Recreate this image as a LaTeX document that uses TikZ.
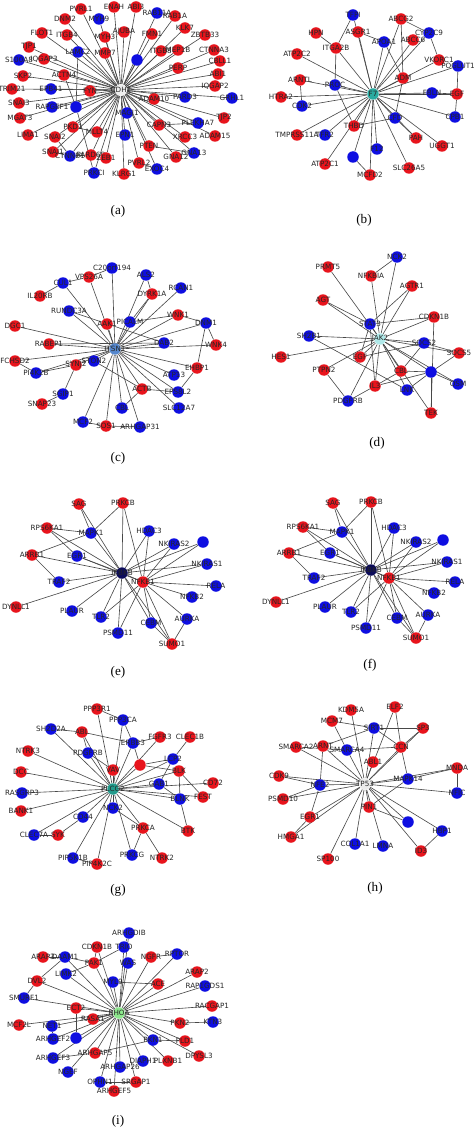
\documentclass[tikz,border=0pt]{standalone}
\usepackage{fontspec}
\newfontfamily\lblfont{DejaVu Sans}
\newfontfamily\capfont{Liberation Serif}
\pgfdeclarelayer{bg}
\pgfsetlayers{bg,main}
\definecolor{nred}{RGB}{232,20,28}
\definecolor{nblue}{RGB}{14,14,225}
\definecolor{hubA}{RGB}{238,238,238}
\definecolor{hubB}{RGB}{40,170,160}
\definecolor{hubC}{RGB}{85,135,205}
\definecolor{hubD}{RGB}{175,232,232}
\definecolor{hubE}{RGB}{12,12,90}
\definecolor{hubG}{RGB}{35,155,140}
\definecolor{hubH}{RGB}{236,236,236}
\definecolor{hubI}{RGB}{140,232,140}
\tikzset{
 nd/.style={circle,draw=none,minimum size=0.23cm,inner sep=0pt},
 lb/.style={font=\lblfont\fontsize{4.1}{4.5}\selectfont,text=black!85,inner sep=0pt},
 ed/.style={draw=black!72,line width=0.35pt},
 captxt/.style={font=\capfont\fontsize{7.5}{8}\selectfont,inner sep=0pt}
}
\newcommand{\redn}[4]{\node[nd,fill=nred,label={[lb]center:#4}] (#1) at (#2,#3) {};}
\newcommand{\bluen}[4]{\node[nd,fill=nblue,label={[lb]center:#4}] (#1) at (#2,#3) {};}
\newcommand{\hubn}[5]{\node[nd,fill=#4,label={[lb]center:#5}] (#1) at (#2,#3) {};}
\begin{document}
\begin{tikzpicture}[x=0.02cm,y=-0.02cm]
\useasboundingbox (0,0) rectangle (474,1128);
% ---------------- (a)
\hubn{aH}{121}{90}{hubA}{CDH1}
\redn{a1}{81}{9}{PVRL1}
\redn{a2}{114}{7}{ENAH}
\redn{a3}{136}{7}{ABI3}
\bluen{a4}{157}{13}{RAB11A}
\redn{a5}{175}{16}{RAB1A}
\redn{a6}{65}{19}{DNM2}
\bluen{a7}{99}{19}{MYH9}
\redn{a8}{42}{33}{FLOT1}
\redn{a9}{67}{35}{ITGB4}
\redn{a10}{105}{37}{MYH3}
\redn{a11}{124}{32}{AJUBA}
\redn{a12}{152}{34}{FMN1}
\redn{a13}{185}{28}{KLK7}
\redn{a14}{205}{35}{ZBTB33}
\redn{a15}{29}{47}{TJP1}
\bluen{a16}{78}{52}{LAMC2}
\redn{a17}{105}{53}{MMP7}
\bluen{a18}{137}{60}{}
\redn{a19}{161}{51}{ITGB8}
\redn{a20}{178}{50}{MEP1B}
\redn{a21}{214}{50}{CTNNA3}
\bluen{a22}{19}{60}{S100A8}
\redn{a23}{44}{59}{IQGAP3}
\redn{a24}{178}{68}{PERP}
\redn{a25}{220}{61}{CBLL1}
\redn{a26}{64}{75}{ACTN4}
\redn{a27}{23}{76}{SKP2}
\redn{a28}{218}{74}{ABI1}
\redn{a29}{12}{89}{TRIM21}
\bluen{a30}{51}{89}{EPB41}
\redn{a31}{90}{91}{FYN}
\redn{a32}{215}{86}{IQGAP2}
\redn{a33}{19}{103}{SNAI3}
\bluen{a34}{52}{107}{RAPGEF1}
\bluen{a35}{76}{107}{}
\redn{a36}{154}{99}{ADAM10}
\bluen{a37}{185}{97}{PARD3}
\bluen{a38}{232}{98}{GRHL1}
\bluen{a39}{127}{113}{MAGI1}
\redn{a40}{20}{118}{MGAT3}
\redn{a41}{73}{127}{PKD1}
\redn{a42}{97}{132}{MLLT4}
\redn{a43}{159}{125}{CAPN3}
\bluen{a44}{198}{123}{PLEKHA7}
\redn{a45}{224}{118}{TJP2}
\redn{a46}{28}{135}{LIMA1}
\redn{a47}{55}{137}{SNAI2}
\bluen{a48}{125}{135}{EPN1}
\redn{a49}{185}{137}{XRCC3}
\redn{a50}{215}{136}{ADAM15}
\redn{a51}{53}{152}{SNAI1}
\bluen{a52}{70}{156}{CTNNB1}
\redn{a53}{91}{155}{PARD6B}
\redn{a54}{106}{158}{ZEB1}
\redn{a55}{149}{146}{PTEN}
\redn{a56}{176}{157}{GNA12}
\bluen{a57}{194}{153}{GNA13}
\redn{a58}{139}{163}{PVRL2}
\bluen{a59}{157}{169}{EXOC4}
\bluen{a60}{94}{173}{PRKCI}
\redn{a61}{124}{174}{KLRG1}
\node[captxt] (capa) at (118,211) {(a)};
% ---------------- (b)
\hubn{bH}{373}{94}{hubB}{F7}
\bluen{b1}{353}{15}{TFPI}
\redn{b2}{358}{32}{ASGR1}
\redn{b3}{401}{19}{ABCG2}
\bluen{b4}{429}{33}{CYP2C9}
\redn{b5}{316}{33}{HPN}
\redn{b6}{336}{48}{ITGA2B}
\bluen{b7}{384}{42}{APOA1}
\redn{b8}{413}{40}{ABCC6}
\redn{b9}{297}{54}{ATP2C2}
\redn{b10}{439}{60}{VKORC1}
\bluen{b11}{458}{66}{POGLUT1}
\redn{b12}{300}{80}{ARNTL}
\bluen{b13}{335}{85}{PROC}
\redn{b14}{403}{78}{ADM}
\redn{b15}{281}{97}{HTRA2}
\bluen{b16}{302}{106}{CDK2}
\bluen{b17}{432}{93}{FBLN}
\redn{b18}{457}{94}{EGF}
\bluen{b19}{455}{117}{CPB1}
\redn{b20}{297}{135}{TMPRSS11A}
\bluen{b21}{325}{135}{TFR2}
\redn{b22}{354}{126}{THBD}
\bluen{b23}{395}{118}{CFD}
\redn{b24}{416}{138}{PAH}
\redn{b25}{442}{146}{UGGT1}
\bluen{b26}{377}{149}{F12}
\bluen{b27}{353}{157}{}
\redn{b28}{325}{164}{ATP2C1}
\redn{b29}{370}{175}{MCFD2}
\redn{b30}{409}{168}{SLC26A5}
\node[captxt] (capb) at (364,220) {(b)};
% ---------------- (c)
\hubn{cH}{115}{349}{hubC}{ITSN1}
\bluen{c1}{112}{268}{C20orf194}
\redn{c2}{89}{277}{VPS26A}
\bluen{c3}{146}{275}{ALS2}
\bluen{c4}{63}{283}{CUL1}
\bluen{c5}{181}{288}{RCAN1}
\redn{c6}{152}{294}{DYRK1A}
\redn{c7}{40}{296}{IL20RB}
\bluen{c8}{69}{311}{RUNDC3A}
\redn{c9}{107}{324}{AAK1}
\bluen{c10}{130}{322}{PICALM}
\redn{c11}{178}{315}{WNK1}
\bluen{c12}{206}{323}{DNM1}
\redn{c13}{15}{326}{DGC1}
\bluen{c14}{164}{343}{DAB2}
\redn{c15}{216}{345}{WNK4}
\redn{c16}{49}{344}{RABEP1}
\redn{c17}{15}{361}{FCHSD2}
\redn{c18}{76}{365}{SYNJ2}
\bluen{c19}{94}{361}{STON2}
\bluen{c20}{36}{373}{PI4K2B}
\redn{c21}{197}{368}{EHBP1}
\bluen{c22}{174}{375}{ATP13}
\bluen{c23}{63}{394}{SGIP1}
\redn{c24}{142}{389}{ACTB}
\bluen{c25}{178}{392}{EPS8L2}
\redn{c26}{42}{404}{SNAP23}
\bluen{c27}{179}{408}{SLC12A7}
\bluen{c28}{122}{408}{CBL}
\bluen{c29}{83}{422}{MCF2}
\redn{c30}{106}{426}{SOS1}
\bluen{c31}{140}{427}{ARHGAP31}
\node[captxt] (capc) at (118,458) {(c)};
% ---------------- (d)
\hubn{dH}{380}{339}{hubD}{JAK2}
\bluen{d1}{397}{257}{NCK2}
\redn{d2}{328}{267}{PRMT5}
\redn{d3}{371}{276}{NFKBIA}
\redn{d4}{412}{286}{AGTR1}
\redn{d5}{323}{300}{AGT}
\redn{d6}{434}{317}{CDKN1B}
\bluen{d7}{370}{324}{STAT3}
\bluen{d8}{309}{336}{SH2B1}
\bluen{d9}{424}{343}{SOCS2}
\redn{d10}{459}{353}{SOCS5}
\redn{d11}{281}{357}{HES1}
\redn{d12}{324}{370}{PTPN2}
\redn{d13}{360}{357}{EGF}
\redn{d14}{401}{371}{CBL}
\bluen{d15}{431}{372}{}
\bluen{d16}{458}{384}{OSM}
\redn{d17}{375}{386}{IL3}
\bluen{d18}{407}{390}{LNK}
\bluen{d19}{348}{401}{PDGFRB}
\redn{d20}{431}{413}{TEK}
\node[captxt] (capd) at (377,443) {(d)};
% ---------------- (e)
\hubn{eH1}{122}{573}{hubE}{IKBKB}
\redn{eH2}{143}{582}{NFKB1}
\redn{e1}{79}{504}{SAG}
\redn{e2}{123}{503}{PRKCB}
\redn{e3}{47}{528}{RPS6KA1}
\bluen{e4}{91}{533}{MAPK1}
\bluen{e5}{149}{531}{HDAC3}
\bluen{e6}{174}{544}{NKIRAS2}
\bluen{e7}{203}{542}{}
\redn{e8}{32}{555}{ARRB1}
\bluen{e9}{77}{556}{EGR1}
\bluen{e10}{207}{564}{NKIRAS1}
\bluen{e11}{59}{582}{TRAF2}
\bluen{e12}{216}{586}{RELA}
\bluen{e13}{192}{597}{NFKB2}
\redn{e14}{16}{607}{DYNLL1}
\bluen{e15}{72}{611}{PLAUR}
\bluen{e16}{101}{617}{TLR2}
\bluen{e17}{151}{623}{CEBM}
\bluen{e18}{187}{619}{AURKA}
\bluen{e19}{118}{633}{PSMD11}
\redn{e20}{172}{644}{SUMO1}
\node[captxt] (cape) at (118,672) {(e)};
% ---------------- (f)
\hubn{fH1}{371}{570}{hubE}{IKBKB}
\redn{fH2}{389}{578}{NFKB1}
\redn{f1}{333}{503}{SAG}
\redn{f2}{371}{502}{PRKCB}
\redn{f3}{303}{527}{RPS6KA1}
\bluen{f4}{342}{532}{MAPK1}
\bluen{f5}{394}{528}{HDAC3}
\bluen{f6}{416}{542}{NKIRAS2}
\bluen{f7}{443}{540}{}
\redn{f8}{289}{553}{ARRB1}
\bluen{f9}{330}{553}{EGR1}
\bluen{f10}{447}{562}{NKIRAS1}
\bluen{f11}{314}{578}{TRAF2}
\bluen{f12}{455}{582}{RELA}
\bluen{f13}{434}{593}{NFKB2}
\redn{f14}{276}{602}{DYNLL1}
\bluen{f15}{325}{607}{PLAUR}
\bluen{f16}{351}{612}{TLR2}
\bluen{f17}{397}{618}{CEBM}
\bluen{f18}{428}{615}{AURKA}
\bluen{f19}{366}{628}{PSMD11}
\redn{f20}{416}{638}{SUMO1}
\node[captxt] (capf) at (370,665) {(f)};
% ---------------- (g)
\hubn{gH}{113}{789}{hubG}{PLCG2}
\redn{g1}{97}{709}{PPP3R1}
\bluen{g2}{123}{720}{PPP3CA}
\bluen{g3}{51}{729}{SH2D2A}
\redn{g4}{82}{732}{ABL}
\bluen{g5}{133}{743}{ERBB3}
\redn{g6}{160}{737}{FGFR3}
\redn{g7}{190}{737}{CLEC1B}
\redn{g8}{28}{751}{NTRK3}
\bluen{g9}{88}{753}{PDGFRB}
\bluen{g10}{173}{759}{LCP2}
\redn{g11}{140}{765}{}
\redn{g12}{113}{770}{VAV}
\redn{g13}{21}{772}{DCC}
\redn{g14}{179}{771}{BLK}
\bluen{g15}{159}{784}{GAB1}
\redn{g16}{213}{783}{CD72}
\bluen{g17}{22}{793}{RASGRP3}
\bluen{g18}{180}{799}{BLNK}
\redn{g19}{203}{797}{FEST}
\redn{g20}{21}{811}{BANK1}
\bluen{g21}{113}{808}{NCK2}
\bluen{g22}{83}{817}{CD44}
\redn{g23}{143}{828}{PRKCA}
\redn{g24}{188}{831}{BTK}
\bluen{g25}{34}{835}{CLEC7A}
\redn{g26}{58}{835}{SYK}
\bluen{g27}{73}{858}{PIP5K1B}
\redn{g28}{97}{864}{PIP4K2C}
\bluen{g29}{132}{855}{PRKCG}
\redn{g30}{162}{858}{NTRK2}
\node[captxt] (capg) at (118,890) {(g)};
% ---------------- (h)
\hubn{hH}{365}{784}{hubH}{TP53}
\redn{h1}{351}{710}{KDM5A}
\redn{h2}{395}{707}{ELF2}
\redn{h3}{332}{721}{MCM7}
\bluen{h4}{374}{728}{SIRT1}
\redn{h5}{423}{728}{SP3}
\redn{h6}{296}{747}{SMARCA2}
\redn{h7}{323}{746}{ARNT}
\bluen{h8}{347}{750}{SMARCA4}
\redn{h9}{401}{747}{CCN}
\redn{h10}{373}{762}{ABL1}
\redn{h11}{457}{768}{MNDA}
\redn{h12}{279}{776}{CDK9}
\bluen{h13}{320}{785}{NFE2}
\bluen{h14}{408}{779}{MAPK14}
\bluen{h15}{457}{793}{NFIC}
\redn{h16}{283}{799}{PSMD10}
\redn{h17}{369}{807}{PIN1}
\redn{h18}{310}{817}{EGR1}
\bluen{h19}{408}{822}{}
\bluen{h20}{442}{831}{HBP1}
\redn{h21}{291}{837}{HMGA1}
\bluen{h22}{355}{844}{COL1A1}
\bluen{h23}{383}{846}{LMNA}
\redn{h24}{421}{851}{ID3}
\redn{h25}{328}{859}{SP100}
\node[captxt] (caph) at (375,888) {(h)};
% ---------------- (i)
\hubn{iH}{119}{1013}{hubI}{RHOA}
\bluen{i1}{129}{933}{ARHGDIB}
\redn{i2}{97}{947}{CDKN1B}
\bluen{i3}{124}{947}{TRIO}
\redn{i4}{43}{957}{ARAP3}
\bluen{i5}{65}{957}{DAAM1}
\redn{i6}{94}{963}{PAK1}
\bluen{i7}{128}{963}{WAS}
\redn{i8}{151}{957}{NGFR}
\bluen{i9}{177}{954}{RPTOR}
\bluen{i10}{66}{974}{LIMK2}
\bluen{i11}{113}{982}{MYL9}
\redn{i12}{158}{984}{ACE}
\redn{i13}{197}{972}{ARAP2}
\bluen{i14}{205}{986}{RAP1GDS1}
\redn{i15}{37}{981}{DVL2}
\bluen{i16}{24}{998}{SMURF1}
\redn{i17}{76}{1008}{ECT2}
\redn{i18}{212}{1006}{RACGAP1}
\redn{i19}{93}{1019}{RASA1}
\redn{i20}{19}{1025}{MCF2L}
\bluen{i21}{52}{1026}{NET1}
\redn{i22}{180}{1023}{PKN2}
\bluen{i23}{213}{1022}{KTN3}
\bluen{i24}{53}{1039}{ARHGEF2}
\bluen{i25}{76}{1038}{}
\bluen{i26}{153}{1040}{PKN1}
\redn{i27}{185}{1041}{PLD1}
\bluen{i28}{53}{1058}{ARHGEF3}
\redn{i29}{95}{1053}{ARHGAP5}
\redn{i30}{199}{1056}{DPYSL3}
\bluen{i31}{143}{1061}{DIAPH1}
\bluen{i32}{120}{1067}{ARHGAP26}
\bluen{i33}{68}{1072}{NGEF}
\redn{i34}{168}{1061}{PLXNB1}
\bluen{i35}{100}{1082}{OPHN1}
\redn{i36}{136}{1082}{SRGAP1}
\redn{i37}{114}{1091}{ARHGEF5}
\node[captxt] (capi) at (118,1121) {(i)};
% ================= edges
\begin{pgfonlayer}{bg}
\fill[white] (0,0) rectangle (474,1128);
\foreach \n in {1,...,61} \draw[ed] (aH) -- (a\n);
\foreach \u/\v in {16/35,35/60,47/52,51/52,52/53,55/57,58/59,43/44,26/35,41/42}
  \draw[ed] (a\u) -- (a\v);
\foreach \n in {1,2,3,4,6,7,8,9,10,11,12,13,14,15,16,17,18,19,20,21,22,23,24,25,26,27,28,29,30}
  \draw[ed] (bH) -- (b\n);
\foreach \u/\v in {5/6,1/6,2/7,3/4,4/10,11/18,17/18,18/19,12/16,6/13,13/22,22/23,27/29,14/23,7/14,23/24,3/14}
  \draw[ed] (b\u) -- (b\v);
\foreach \n in {1,2,3,4,5,6,8,9,10,11,12,13,14,15,16,17,18,19,20,21,22,24,25,27,28,29,30,31}
  \draw[ed] (cH) -- (c\n);
\foreach \u/\v in {1/2,2/4,4/7,3/6,6/10,10/11,11/12,12/15,8/14,17/20,20/18,18/23,23/26,24/25,24/28,21/25,12/21,29/30,30/31,16/14,19/24}
  \draw[ed] (c\u) -- (c\v);
\foreach \n in {1,...,20} \draw[ed] (dH) -- (d\n);
\foreach \u/\v in {1/3,7/5,7/6,7/4,8/18,12/19,19/17,17/14,17/15,14/15,18/15,15/20,15/10,9/10,9/14,6/20,15/16,13/9,7/13,7/17}
  \draw[ed] (d\u) -- (d\v);
\foreach \p in {e,f}{
  \draw[ed] (\p H1) -- (\p H2);
  \foreach \n in {1,2,3,4,5,6,8,9,11,14,15,16,17,19,20,10,7}
    \draw[ed] (\p H1) -- (\p\n);
  \foreach \n in {5,6,7,10,12,13,16,17,18,19,20,9,2}
    \draw[ed] (\p H2) -- (\p\n);
  \foreach \u/\v in {1/4,2/4,3/4,4/8,8/11,20/17,20/18,3/9}
    \draw[ed] (\p\u) -- (\p\v);
}
\foreach \n in {2,3,4,5,6,8,9,10,11,12,13,15,16,17,19,20,21,22,23,24,25,27,28,29,1,14,18}
  \draw[ed] (gH) -- (g\n);
\foreach \u/\v in {1/2,3/4,4/5,4/9,5/6,2/5,5/11,10/11,7/10,14/18,14/19,18/24,10/15,25/26,26/22,27/28,29/23,23/30,21/23,11/14,9/12,15/18}
  \draw[ed] (g\u) -- (g\v);
\foreach \n in {1,2,4,6,7,8,9,10,11,12,13,14,15,16,17,18,19,20,21,22,23,24,25,5}
  \draw[ed] (hH) -- (h\n);
\foreach \u/\v in {3/4,4/5,5/9,4/9,9/14,11/14,11/15,6/8,7/13,7/4,12/13,16/13,13/18,18/21,20/24,17/19,17/14,3/8,8/9,2/9}
  \draw[ed] (h\u) -- (h\v);
\foreach \n in {1,2,3,5,6,7,8,9,10,11,12,13,14,15,16,17,18,19,20,21,22,24,25,26,27,28,29,30,31,32,33,34,35,36,37}
  \draw[ed] (iH) -- (i\n);
\foreach \u/\v in {1/3,2/6,5/6,6/10,8/9,15/16,15/5,12/11,22/23,26/27,29/26,29/28,35/36,24/21,25/17,4/5,3/6}
  \draw[ed] (i\u) -- (i\v);
\end{pgfonlayer}
\end{tikzpicture}
\end{document}
